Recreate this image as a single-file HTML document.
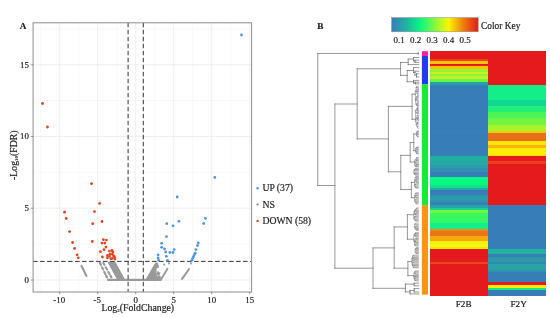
<!DOCTYPE html>
<html lang="en"><head><meta charset="utf-8"><title>Volcano plot and heatmap</title>
<style>html,body{margin:0;padding:0;background:#fff;}body{width:550px;height:318px;overflow:hidden;}svg{display:block;filter:blur(0.35px);font-family:"Liberation Serif","Times New Roman",serif;fill:#1a1a1a;}text{stroke:#1a1a1a;stroke-width:0.18px;}</style></head><body>
<svg width="550" height="318" viewBox="0 0 550 318">
<defs><linearGradient id="key" x1="0" x2="1" y1="0" y2="0"><stop offset="0" stop-color="#377eb8"/><stop offset="0.17" stop-color="#1fb3a2"/><stop offset="0.33" stop-color="#08f782"/><stop offset="0.50" stop-color="#86f83c"/><stop offset="0.66" stop-color="#fdf500"/><stop offset="0.82" stop-color="#f0820f"/><stop offset="1" stop-color="#e41a1c"/></linearGradient></defs>
<rect x="0" y="0" width="550" height="318" fill="#ffffff"/>
<g id="volcano">
<g stroke="#f3f3f3" stroke-width="0.5" fill="none">
<line x1="40.7" y1="22.8" x2="40.7" y2="292.0"/>
<line x1="78.7" y1="22.8" x2="78.7" y2="292.0"/>
<line x1="116.7" y1="22.8" x2="116.7" y2="292.0"/>
<line x1="154.7" y1="22.8" x2="154.7" y2="292.0"/>
<line x1="192.7" y1="22.8" x2="192.7" y2="292.0"/>
<line x1="230.7" y1="22.8" x2="230.7" y2="292.0"/>
<line x1="33.1" y1="244.1" x2="251.6" y2="244.1"/>
<line x1="33.1" y1="172.4" x2="251.6" y2="172.4"/>
<line x1="33.1" y1="100.6" x2="251.6" y2="100.6"/>
<line x1="33.1" y1="28.9" x2="251.6" y2="28.9"/>
</g>
<g stroke="#e8e8e8" stroke-width="0.7" fill="none">
<line x1="59.7" y1="22.8" x2="59.7" y2="292.0"/>
<line x1="97.7" y1="22.8" x2="97.7" y2="292.0"/>
<line x1="135.7" y1="22.8" x2="135.7" y2="292.0"/>
<line x1="173.7" y1="22.8" x2="173.7" y2="292.0"/>
<line x1="211.7" y1="22.8" x2="211.7" y2="292.0"/>
<line x1="249.7" y1="22.8" x2="249.7" y2="292.0"/>
<line x1="33.1" y1="280.0" x2="251.6" y2="280.0"/>
<line x1="33.1" y1="208.2" x2="251.6" y2="208.2"/>
<line x1="33.1" y1="136.5" x2="251.6" y2="136.5"/>
<line x1="33.1" y1="64.8" x2="251.6" y2="64.8"/>
</g>
<g fill="#9a9a9a">
<circle cx="108.0" cy="279.9" r="1.1"/>
<circle cx="108.9" cy="279.9" r="1.1"/>
<circle cx="109.8" cy="279.9" r="1.1"/>
<circle cx="110.7" cy="279.9" r="1.1"/>
<circle cx="111.6" cy="279.9" r="1.1"/>
<circle cx="112.5" cy="279.9" r="1.1"/>
<circle cx="113.4" cy="279.9" r="1.1"/>
<circle cx="114.3" cy="279.9" r="1.1"/>
<circle cx="115.2" cy="279.9" r="1.1"/>
<circle cx="116.1" cy="279.9" r="1.1"/>
<circle cx="117.0" cy="279.9" r="1.1"/>
<circle cx="117.9" cy="279.9" r="1.1"/>
<circle cx="118.8" cy="279.9" r="1.1"/>
<circle cx="119.7" cy="279.9" r="1.1"/>
<circle cx="120.6" cy="279.9" r="1.1"/>
<circle cx="121.5" cy="279.9" r="1.1"/>
<circle cx="122.4" cy="279.9" r="1.1"/>
<circle cx="123.3" cy="279.9" r="1.1"/>
<circle cx="124.2" cy="279.9" r="1.1"/>
<circle cx="125.1" cy="279.9" r="1.1"/>
<circle cx="126.0" cy="279.9" r="1.1"/>
<circle cx="126.9" cy="279.9" r="1.1"/>
<circle cx="127.8" cy="279.9" r="1.1"/>
<circle cx="128.7" cy="279.9" r="1.1"/>
<circle cx="129.6" cy="279.9" r="1.1"/>
<circle cx="130.5" cy="279.9" r="1.1"/>
<circle cx="131.4" cy="279.9" r="1.1"/>
<circle cx="132.3" cy="279.9" r="1.1"/>
<circle cx="133.2" cy="279.9" r="1.1"/>
<circle cx="134.1" cy="279.9" r="1.1"/>
<circle cx="135.0" cy="279.9" r="1.1"/>
<circle cx="135.9" cy="279.9" r="1.1"/>
<circle cx="136.8" cy="279.9" r="1.1"/>
<circle cx="137.7" cy="279.9" r="1.1"/>
<circle cx="138.6" cy="279.9" r="1.1"/>
<circle cx="139.5" cy="279.9" r="1.1"/>
<circle cx="140.4" cy="279.9" r="1.1"/>
<circle cx="141.3" cy="279.9" r="1.1"/>
<circle cx="142.2" cy="279.9" r="1.1"/>
<circle cx="143.1" cy="279.9" r="1.1"/>
<circle cx="144.0" cy="279.9" r="1.1"/>
<circle cx="144.9" cy="279.9" r="1.1"/>
<circle cx="145.8" cy="279.9" r="1.1"/>
<circle cx="146.7" cy="279.9" r="1.1"/>
<circle cx="147.6" cy="279.9" r="1.1"/>
<circle cx="148.5" cy="279.9" r="1.1"/>
<circle cx="149.4" cy="279.9" r="1.1"/>
<circle cx="150.3" cy="279.9" r="1.1"/>
<circle cx="151.2" cy="279.9" r="1.1"/>
<circle cx="152.1" cy="279.9" r="1.1"/>
<circle cx="153.0" cy="279.9" r="1.1"/>
<circle cx="153.9" cy="279.9" r="1.1"/>
<circle cx="154.8" cy="279.9" r="1.1"/>
<circle cx="155.7" cy="279.9" r="1.1"/>
<circle cx="156.6" cy="279.9" r="1.1"/>
<circle cx="157.5" cy="279.9" r="1.1"/>
<circle cx="158.4" cy="279.9" r="1.1"/>
<circle cx="159.3" cy="279.9" r="1.1"/>
<circle cx="160.2" cy="279.9" r="1.1"/>
<circle cx="109.0" cy="262.6" r="1.1"/>
<circle cx="110.1" cy="262.6" r="1.1"/>
<circle cx="111.2" cy="262.6" r="1.1"/>
<circle cx="112.3" cy="262.6" r="1.1"/>
<circle cx="113.4" cy="262.6" r="1.1"/>
<circle cx="114.5" cy="262.6" r="1.1"/>
<circle cx="109.4" cy="263.3" r="1.1"/>
<circle cx="110.5" cy="263.3" r="1.1"/>
<circle cx="111.6" cy="263.3" r="1.1"/>
<circle cx="112.7" cy="263.3" r="1.1"/>
<circle cx="113.8" cy="263.3" r="1.1"/>
<circle cx="114.9" cy="263.3" r="1.1"/>
<circle cx="109.8" cy="264.0" r="1.1"/>
<circle cx="110.9" cy="264.0" r="1.1"/>
<circle cx="112.0" cy="264.0" r="1.1"/>
<circle cx="113.1" cy="264.0" r="1.1"/>
<circle cx="114.2" cy="264.0" r="1.1"/>
<circle cx="115.3" cy="264.0" r="1.1"/>
<circle cx="110.1" cy="264.7" r="1.1"/>
<circle cx="111.2" cy="264.7" r="1.1"/>
<circle cx="112.3" cy="264.7" r="1.1"/>
<circle cx="113.4" cy="264.7" r="1.1"/>
<circle cx="114.5" cy="264.7" r="1.1"/>
<circle cx="115.6" cy="264.7" r="1.1"/>
<circle cx="110.5" cy="265.4" r="1.1"/>
<circle cx="111.6" cy="265.4" r="1.1"/>
<circle cx="112.7" cy="265.4" r="1.1"/>
<circle cx="113.8" cy="265.4" r="1.1"/>
<circle cx="114.9" cy="265.4" r="1.1"/>
<circle cx="116.0" cy="265.4" r="1.1"/>
<circle cx="110.9" cy="266.1" r="1.1"/>
<circle cx="112.0" cy="266.1" r="1.1"/>
<circle cx="113.1" cy="266.1" r="1.1"/>
<circle cx="114.2" cy="266.1" r="1.1"/>
<circle cx="115.3" cy="266.1" r="1.1"/>
<circle cx="116.4" cy="266.1" r="1.1"/>
<circle cx="111.3" cy="266.8" r="1.1"/>
<circle cx="112.4" cy="266.8" r="1.1"/>
<circle cx="113.5" cy="266.8" r="1.1"/>
<circle cx="114.6" cy="266.8" r="1.1"/>
<circle cx="115.7" cy="266.8" r="1.1"/>
<circle cx="116.8" cy="266.8" r="1.1"/>
<circle cx="111.7" cy="267.4" r="1.1"/>
<circle cx="112.8" cy="267.4" r="1.1"/>
<circle cx="113.9" cy="267.4" r="1.1"/>
<circle cx="115.0" cy="267.4" r="1.1"/>
<circle cx="116.1" cy="267.4" r="1.1"/>
<circle cx="117.2" cy="267.4" r="1.1"/>
<circle cx="112.0" cy="268.1" r="1.1"/>
<circle cx="113.1" cy="268.1" r="1.1"/>
<circle cx="114.2" cy="268.1" r="1.1"/>
<circle cx="115.3" cy="268.1" r="1.1"/>
<circle cx="116.4" cy="268.1" r="1.1"/>
<circle cx="117.5" cy="268.1" r="1.1"/>
<circle cx="112.4" cy="268.8" r="1.1"/>
<circle cx="113.5" cy="268.8" r="1.1"/>
<circle cx="114.6" cy="268.8" r="1.1"/>
<circle cx="115.7" cy="268.8" r="1.1"/>
<circle cx="116.8" cy="268.8" r="1.1"/>
<circle cx="117.9" cy="268.8" r="1.1"/>
<circle cx="112.8" cy="269.5" r="1.1"/>
<circle cx="113.9" cy="269.5" r="1.1"/>
<circle cx="115.0" cy="269.5" r="1.1"/>
<circle cx="116.1" cy="269.5" r="1.1"/>
<circle cx="117.2" cy="269.5" r="1.1"/>
<circle cx="118.3" cy="269.5" r="1.1"/>
<circle cx="113.2" cy="270.2" r="1.1"/>
<circle cx="114.3" cy="270.2" r="1.1"/>
<circle cx="115.4" cy="270.2" r="1.1"/>
<circle cx="116.5" cy="270.2" r="1.1"/>
<circle cx="117.6" cy="270.2" r="1.1"/>
<circle cx="118.7" cy="270.2" r="1.1"/>
<circle cx="113.6" cy="270.9" r="1.1"/>
<circle cx="114.7" cy="270.9" r="1.1"/>
<circle cx="115.8" cy="270.9" r="1.1"/>
<circle cx="116.9" cy="270.9" r="1.1"/>
<circle cx="118.0" cy="270.9" r="1.1"/>
<circle cx="119.1" cy="270.9" r="1.1"/>
<circle cx="113.9" cy="271.6" r="1.1"/>
<circle cx="115.0" cy="271.6" r="1.1"/>
<circle cx="116.1" cy="271.6" r="1.1"/>
<circle cx="117.2" cy="271.6" r="1.1"/>
<circle cx="118.3" cy="271.6" r="1.1"/>
<circle cx="119.4" cy="271.6" r="1.1"/>
<circle cx="114.3" cy="272.3" r="1.1"/>
<circle cx="115.4" cy="272.3" r="1.1"/>
<circle cx="116.5" cy="272.3" r="1.1"/>
<circle cx="117.6" cy="272.3" r="1.1"/>
<circle cx="118.7" cy="272.3" r="1.1"/>
<circle cx="119.8" cy="272.3" r="1.1"/>
<circle cx="114.7" cy="273.0" r="1.1"/>
<circle cx="115.8" cy="273.0" r="1.1"/>
<circle cx="116.9" cy="273.0" r="1.1"/>
<circle cx="118.0" cy="273.0" r="1.1"/>
<circle cx="119.1" cy="273.0" r="1.1"/>
<circle cx="120.2" cy="273.0" r="1.1"/>
<circle cx="115.1" cy="273.7" r="1.1"/>
<circle cx="116.2" cy="273.7" r="1.1"/>
<circle cx="117.3" cy="273.7" r="1.1"/>
<circle cx="118.4" cy="273.7" r="1.1"/>
<circle cx="119.5" cy="273.7" r="1.1"/>
<circle cx="120.6" cy="273.7" r="1.1"/>
<circle cx="115.5" cy="274.4" r="1.1"/>
<circle cx="116.6" cy="274.4" r="1.1"/>
<circle cx="117.7" cy="274.4" r="1.1"/>
<circle cx="118.8" cy="274.4" r="1.1"/>
<circle cx="119.9" cy="274.4" r="1.1"/>
<circle cx="121.0" cy="274.4" r="1.1"/>
<circle cx="115.8" cy="275.1" r="1.1"/>
<circle cx="116.9" cy="275.1" r="1.1"/>
<circle cx="118.0" cy="275.1" r="1.1"/>
<circle cx="119.1" cy="275.1" r="1.1"/>
<circle cx="120.2" cy="275.1" r="1.1"/>
<circle cx="121.3" cy="275.1" r="1.1"/>
<circle cx="116.2" cy="275.7" r="1.1"/>
<circle cx="117.3" cy="275.7" r="1.1"/>
<circle cx="118.4" cy="275.7" r="1.1"/>
<circle cx="119.5" cy="275.7" r="1.1"/>
<circle cx="120.6" cy="275.7" r="1.1"/>
<circle cx="121.7" cy="275.7" r="1.1"/>
<circle cx="116.6" cy="276.4" r="1.1"/>
<circle cx="117.7" cy="276.4" r="1.1"/>
<circle cx="118.8" cy="276.4" r="1.1"/>
<circle cx="119.9" cy="276.4" r="1.1"/>
<circle cx="121.0" cy="276.4" r="1.1"/>
<circle cx="122.1" cy="276.4" r="1.1"/>
<circle cx="117.0" cy="277.1" r="1.1"/>
<circle cx="118.1" cy="277.1" r="1.1"/>
<circle cx="119.2" cy="277.1" r="1.1"/>
<circle cx="120.3" cy="277.1" r="1.1"/>
<circle cx="121.4" cy="277.1" r="1.1"/>
<circle cx="122.5" cy="277.1" r="1.1"/>
<circle cx="117.4" cy="277.8" r="1.1"/>
<circle cx="118.5" cy="277.8" r="1.1"/>
<circle cx="119.6" cy="277.8" r="1.1"/>
<circle cx="120.7" cy="277.8" r="1.1"/>
<circle cx="121.8" cy="277.8" r="1.1"/>
<circle cx="122.9" cy="277.8" r="1.1"/>
<circle cx="117.7" cy="278.5" r="1.1"/>
<circle cx="118.8" cy="278.5" r="1.1"/>
<circle cx="119.9" cy="278.5" r="1.1"/>
<circle cx="121.0" cy="278.5" r="1.1"/>
<circle cx="122.1" cy="278.5" r="1.1"/>
<circle cx="123.2" cy="278.5" r="1.1"/>
<circle cx="118.1" cy="279.2" r="1.1"/>
<circle cx="119.2" cy="279.2" r="1.1"/>
<circle cx="120.3" cy="279.2" r="1.1"/>
<circle cx="121.4" cy="279.2" r="1.1"/>
<circle cx="122.5" cy="279.2" r="1.1"/>
<circle cx="123.6" cy="279.2" r="1.1"/>
<circle cx="118.5" cy="279.9" r="1.1"/>
<circle cx="119.6" cy="279.9" r="1.1"/>
<circle cx="120.7" cy="279.9" r="1.1"/>
<circle cx="121.8" cy="279.9" r="1.1"/>
<circle cx="122.9" cy="279.9" r="1.1"/>
<circle cx="124.0" cy="279.9" r="1.1"/>
<circle cx="155.9" cy="263.6" r="1.1"/>
<circle cx="156.9" cy="263.6" r="1.1"/>
<circle cx="155.3" cy="264.7" r="1.1"/>
<circle cx="156.3" cy="264.7" r="1.1"/>
<circle cx="157.3" cy="264.7" r="1.1"/>
<circle cx="154.7" cy="265.8" r="1.1"/>
<circle cx="155.7" cy="265.8" r="1.1"/>
<circle cx="156.7" cy="265.8" r="1.1"/>
<circle cx="157.7" cy="265.8" r="1.1"/>
<circle cx="154.0" cy="266.9" r="1.1"/>
<circle cx="155.0" cy="266.9" r="1.1"/>
<circle cx="156.0" cy="266.9" r="1.1"/>
<circle cx="157.0" cy="266.9" r="1.1"/>
<circle cx="158.0" cy="266.9" r="1.1"/>
<circle cx="153.4" cy="267.9" r="1.1"/>
<circle cx="154.4" cy="267.9" r="1.1"/>
<circle cx="155.4" cy="267.9" r="1.1"/>
<circle cx="152.8" cy="269.0" r="1.1"/>
<circle cx="153.8" cy="269.0" r="1.1"/>
<circle cx="154.8" cy="269.0" r="1.1"/>
<circle cx="155.8" cy="269.0" r="1.1"/>
<circle cx="152.2" cy="270.1" r="1.1"/>
<circle cx="153.2" cy="270.1" r="1.1"/>
<circle cx="154.2" cy="270.1" r="1.1"/>
<circle cx="155.2" cy="270.1" r="1.1"/>
<circle cx="151.6" cy="271.2" r="1.1"/>
<circle cx="152.6" cy="271.2" r="1.1"/>
<circle cx="153.6" cy="271.2" r="1.1"/>
<circle cx="154.6" cy="271.2" r="1.1"/>
<circle cx="155.6" cy="271.2" r="1.1"/>
<circle cx="150.9" cy="272.3" r="1.1"/>
<circle cx="151.9" cy="272.3" r="1.1"/>
<circle cx="152.9" cy="272.3" r="1.1"/>
<circle cx="153.9" cy="272.3" r="1.1"/>
<circle cx="154.9" cy="272.3" r="1.1"/>
<circle cx="157.9" cy="272.3" r="1.1"/>
<circle cx="150.3" cy="273.4" r="1.1"/>
<circle cx="151.3" cy="273.4" r="1.1"/>
<circle cx="152.3" cy="273.4" r="1.1"/>
<circle cx="153.3" cy="273.4" r="1.1"/>
<circle cx="154.3" cy="273.4" r="1.1"/>
<circle cx="155.3" cy="273.4" r="1.1"/>
<circle cx="157.3" cy="273.4" r="1.1"/>
<circle cx="158.3" cy="273.4" r="1.1"/>
<circle cx="159.3" cy="273.4" r="1.1"/>
<circle cx="149.7" cy="274.5" r="1.1"/>
<circle cx="150.7" cy="274.5" r="1.1"/>
<circle cx="151.7" cy="274.5" r="1.1"/>
<circle cx="152.7" cy="274.5" r="1.1"/>
<circle cx="153.7" cy="274.5" r="1.1"/>
<circle cx="154.7" cy="274.5" r="1.1"/>
<circle cx="156.7" cy="274.5" r="1.1"/>
<circle cx="158.7" cy="274.5" r="1.1"/>
<circle cx="149.1" cy="275.6" r="1.1"/>
<circle cx="150.1" cy="275.6" r="1.1"/>
<circle cx="151.1" cy="275.6" r="1.1"/>
<circle cx="152.1" cy="275.6" r="1.1"/>
<circle cx="153.1" cy="275.6" r="1.1"/>
<circle cx="154.1" cy="275.6" r="1.1"/>
<circle cx="155.1" cy="275.6" r="1.1"/>
<circle cx="148.5" cy="276.6" r="1.1"/>
<circle cx="149.5" cy="276.6" r="1.1"/>
<circle cx="150.5" cy="276.6" r="1.1"/>
<circle cx="151.5" cy="276.6" r="1.1"/>
<circle cx="152.5" cy="276.6" r="1.1"/>
<circle cx="153.5" cy="276.6" r="1.1"/>
<circle cx="154.5" cy="276.6" r="1.1"/>
<circle cx="155.5" cy="276.6" r="1.1"/>
<circle cx="156.5" cy="276.6" r="1.1"/>
<circle cx="158.5" cy="276.6" r="1.1"/>
<circle cx="159.5" cy="276.6" r="1.1"/>
<circle cx="147.8" cy="277.7" r="1.1"/>
<circle cx="148.8" cy="277.7" r="1.1"/>
<circle cx="149.8" cy="277.7" r="1.1"/>
<circle cx="150.8" cy="277.7" r="1.1"/>
<circle cx="151.8" cy="277.7" r="1.1"/>
<circle cx="152.8" cy="277.7" r="1.1"/>
<circle cx="153.8" cy="277.7" r="1.1"/>
<circle cx="154.8" cy="277.7" r="1.1"/>
<circle cx="155.8" cy="277.7" r="1.1"/>
<circle cx="156.8" cy="277.7" r="1.1"/>
<circle cx="157.8" cy="277.7" r="1.1"/>
<circle cx="158.8" cy="277.7" r="1.1"/>
<circle cx="159.8" cy="277.7" r="1.1"/>
<circle cx="147.2" cy="278.8" r="1.1"/>
<circle cx="148.2" cy="278.8" r="1.1"/>
<circle cx="149.2" cy="278.8" r="1.1"/>
<circle cx="150.2" cy="278.8" r="1.1"/>
<circle cx="151.2" cy="278.8" r="1.1"/>
<circle cx="152.2" cy="278.8" r="1.1"/>
<circle cx="153.2" cy="278.8" r="1.1"/>
<circle cx="154.2" cy="278.8" r="1.1"/>
<circle cx="155.2" cy="278.8" r="1.1"/>
<circle cx="156.2" cy="278.8" r="1.1"/>
<circle cx="157.2" cy="278.8" r="1.1"/>
<circle cx="158.2" cy="278.8" r="1.1"/>
<circle cx="159.2" cy="278.8" r="1.1"/>
<circle cx="160.2" cy="278.8" r="1.1"/>
<circle cx="146.6" cy="279.9" r="1.1"/>
<circle cx="147.6" cy="279.9" r="1.1"/>
<circle cx="148.6" cy="279.9" r="1.1"/>
<circle cx="149.6" cy="279.9" r="1.1"/>
<circle cx="150.6" cy="279.9" r="1.1"/>
<circle cx="151.6" cy="279.9" r="1.1"/>
<circle cx="152.6" cy="279.9" r="1.1"/>
<circle cx="153.6" cy="279.9" r="1.1"/>
<circle cx="154.6" cy="279.9" r="1.1"/>
<circle cx="155.6" cy="279.9" r="1.1"/>
<circle cx="156.6" cy="279.9" r="1.1"/>
<circle cx="157.6" cy="279.9" r="1.1"/>
<circle cx="158.6" cy="279.9" r="1.1"/>
<circle cx="159.6" cy="279.9" r="1.1"/>
<circle cx="160.6" cy="279.9" r="1.1"/>
<circle cx="99.9" cy="262.9" r="1.05"/>
<circle cx="100.2" cy="263.6" r="1.05"/>
<circle cx="100.6" cy="264.3" r="1.05"/>
<circle cx="100.9" cy="264.9" r="1.05"/>
<circle cx="102.0" cy="267.2" r="1.05"/>
<circle cx="102.4" cy="268.0" r="1.05"/>
<circle cx="102.7" cy="268.8" r="1.05"/>
<circle cx="103.1" cy="269.6" r="1.05"/>
<circle cx="104.2" cy="271.9" r="1.05"/>
<circle cx="104.6" cy="272.7" r="1.05"/>
<circle cx="105.0" cy="273.4" r="1.05"/>
<circle cx="105.4" cy="274.2" r="1.05"/>
<circle cx="106.2" cy="275.9" r="1.05"/>
<circle cx="106.4" cy="276.4" r="1.05"/>
<circle cx="106.7" cy="276.9" r="1.05"/>
<circle cx="106.9" cy="277.4" r="1.05"/>
<circle cx="103.3" cy="262.9" r="1.05"/>
<circle cx="103.7" cy="263.6" r="1.05"/>
<circle cx="104.1" cy="264.3" r="1.05"/>
<circle cx="104.4" cy="264.9" r="1.05"/>
<circle cx="105.7" cy="267.2" r="1.05"/>
<circle cx="106.2" cy="268.0" r="1.05"/>
<circle cx="106.6" cy="268.8" r="1.05"/>
<circle cx="107.0" cy="269.6" r="1.05"/>
<circle cx="108.3" cy="271.9" r="1.05"/>
<circle cx="108.8" cy="272.7" r="1.05"/>
<circle cx="109.2" cy="273.4" r="1.05"/>
<circle cx="109.6" cy="274.2" r="1.05"/>
<circle cx="110.6" cy="275.9" r="1.05"/>
<circle cx="110.9" cy="276.4" r="1.05"/>
<circle cx="111.1" cy="276.9" r="1.05"/>
<circle cx="111.4" cy="277.4" r="1.05"/>
<circle cx="81.5" cy="265.9" r="1.05"/>
<circle cx="81.9" cy="266.7" r="1.05"/>
<circle cx="82.3" cy="267.5" r="1.05"/>
<circle cx="82.7" cy="268.3" r="1.05"/>
<circle cx="83.0" cy="269.0" r="1.05"/>
<circle cx="83.4" cy="269.8" r="1.05"/>
<circle cx="83.8" cy="270.6" r="1.05"/>
<circle cx="84.2" cy="271.4" r="1.05"/>
<circle cx="84.6" cy="272.2" r="1.05"/>
<circle cx="85.0" cy="273.0" r="1.05"/>
<circle cx="85.3" cy="273.7" r="1.05"/>
<circle cx="85.7" cy="274.5" r="1.05"/>
<circle cx="86.1" cy="275.3" r="1.05"/>
<circle cx="86.5" cy="276.1" r="1.05"/>
<circle cx="167.4" cy="268.8" r="1.05"/>
<circle cx="166.8" cy="269.9" r="1.05"/>
<circle cx="166.1" cy="271.0" r="1.05"/>
<circle cx="165.5" cy="272.1" r="1.05"/>
<circle cx="164.8" cy="273.2" r="1.05"/>
<circle cx="164.2" cy="274.2" r="1.05"/>
<circle cx="163.5" cy="275.3" r="1.05"/>
<circle cx="162.9" cy="276.4" r="1.05"/>
<circle cx="162.2" cy="277.5" r="1.05"/>
<circle cx="161.6" cy="278.6" r="1.05"/>
<circle cx="164.2" cy="264.6" r="1.05"/>
<circle cx="169.0" cy="263.4" r="1.05"/>
<circle cx="190.9" cy="263.4" r="1.05"/>
<circle cx="189.0" cy="269.1" r="1.05"/>
<circle cx="188.4" cy="270.0" r="1.05"/>
<circle cx="187.7" cy="270.9" r="1.05"/>
<circle cx="187.1" cy="271.8" r="1.05"/>
<circle cx="186.5" cy="272.7" r="1.05"/>
<circle cx="185.8" cy="273.6" r="1.05"/>
<circle cx="185.2" cy="274.5" r="1.05"/>
<circle cx="184.5" cy="275.4" r="1.05"/>
<circle cx="183.9" cy="276.3" r="1.05"/>
<circle cx="183.3" cy="277.2" r="1.05"/>
<circle cx="182.6" cy="278.1" r="1.05"/>
<circle cx="182.0" cy="279.0" r="1.05"/>
</g>
<g stroke="#333" stroke-width="1.0" stroke-dasharray="4.5 2.5" fill="none">
<line x1="128.1" y1="22.8" x2="128.1" y2="292.0"/>
<line x1="143.3" y1="22.8" x2="143.3" y2="292.0"/>
<line x1="33.1" y1="261.4" x2="251.6" y2="261.4"/>
</g>
<g fill="#d9481f">
<circle cx="42.5" cy="103.5" r="1.4"/>
<circle cx="47.5" cy="127.0" r="1.4"/>
<circle cx="91.5" cy="183.7" r="1.4"/>
<circle cx="99.6" cy="203.4" r="1.4"/>
<circle cx="64.6" cy="212.2" r="1.4"/>
<circle cx="94.5" cy="211.6" r="1.4"/>
<circle cx="66.2" cy="218.5" r="1.4"/>
<circle cx="102.0" cy="221.5" r="1.4"/>
<circle cx="92.7" cy="223.7" r="1.4"/>
<circle cx="69.6" cy="231.6" r="1.4"/>
<circle cx="72.6" cy="242.5" r="1.4"/>
<circle cx="74.6" cy="248.5" r="1.4"/>
<circle cx="77.1" cy="254.8" r="1.4"/>
<circle cx="78.3" cy="257.8" r="1.4"/>
<circle cx="92.3" cy="241.5" r="1.4"/>
<circle cx="103.4" cy="239.7" r="1.4"/>
<circle cx="106.4" cy="240.1" r="1.4"/>
<circle cx="102.0" cy="243.1" r="1.4"/>
<circle cx="104.8" cy="243.1" r="1.4"/>
<circle cx="106.0" cy="247.1" r="1.4"/>
<circle cx="104.0" cy="249.7" r="1.4"/>
<circle cx="100.4" cy="251.7" r="1.4"/>
<circle cx="109.4" cy="251.1" r="1.4"/>
<circle cx="112.0" cy="250.5" r="1.4"/>
<circle cx="112.8" cy="252.1" r="1.4"/>
<circle cx="110.0" cy="254.2" r="1.4"/>
<circle cx="112.4" cy="254.2" r="1.4"/>
<circle cx="107.4" cy="255.4" r="1.4"/>
<circle cx="109.4" cy="256.4" r="1.4"/>
<circle cx="113.5" cy="255.8" r="1.4"/>
<circle cx="114.5" cy="257.0" r="1.4"/>
<circle cx="102.4" cy="257.0" r="1.4"/>
<circle cx="107.4" cy="257.8" r="1.4"/>
<circle cx="112.4" cy="258.4" r="1.4"/>
<circle cx="110.8" cy="258.8" r="1.4"/>
<circle cx="114.9" cy="259.0" r="1.4"/>
</g>
<g fill="#4f94e0">
<circle cx="241.5" cy="35.0" r="1.4"/>
<circle cx="214.8" cy="177.4" r="1.4"/>
<circle cx="177.2" cy="197.0" r="1.4"/>
<circle cx="205.4" cy="218.3" r="1.4"/>
<circle cx="203.7" cy="223.5" r="1.4"/>
<circle cx="178.9" cy="221.3" r="1.4"/>
<circle cx="166.8" cy="223.7" r="1.4"/>
<circle cx="173.0" cy="225.8" r="1.4"/>
<circle cx="166.4" cy="236.6" r="1.4"/>
<circle cx="161.6" cy="243.3" r="1.4"/>
<circle cx="161.6" cy="247.3" r="1.4"/>
<circle cx="164.5" cy="248.9" r="1.4"/>
<circle cx="174.2" cy="249.6" r="1.4"/>
<circle cx="165.7" cy="252.0" r="1.4"/>
<circle cx="169.9" cy="252.5" r="1.4"/>
<circle cx="173.0" cy="252.5" r="1.4"/>
<circle cx="158.1" cy="254.8" r="1.4"/>
<circle cx="166.4" cy="256.3" r="1.4"/>
<circle cx="158.1" cy="257.9" r="1.4"/>
<circle cx="158.6" cy="260.3" r="1.4"/>
<circle cx="167.5" cy="260.3" r="1.4"/>
<circle cx="198.3" cy="243.0" r="1.4"/>
<circle cx="195.9" cy="249.6" r="1.4"/>
<circle cx="195.2" cy="253.2" r="1.4"/>
<circle cx="194.3" cy="254.8" r="1.4"/>
<circle cx="193.5" cy="256.7" r="1.4"/>
<circle cx="192.6" cy="258.6" r="1.4"/>
<circle cx="191.9" cy="260.3" r="1.4"/>
<circle cx="197.4" cy="245.6" r="1.4"/>
</g>
<rect x="33.1" y="22.8" width="218.5" height="269.2" fill="none" stroke="#8c8c8c" stroke-width="1"/>
<g stroke="#555" stroke-width="0.6">
<line x1="59.7" y1="292.0" x2="59.7" y2="294.2"/>
<line x1="97.7" y1="292.0" x2="97.7" y2="294.2"/>
<line x1="135.7" y1="292.0" x2="135.7" y2="294.2"/>
<line x1="173.7" y1="292.0" x2="173.7" y2="294.2"/>
<line x1="211.7" y1="292.0" x2="211.7" y2="294.2"/>
<line x1="249.7" y1="292.0" x2="249.7" y2="294.2"/>
<line x1="30.700000000000003" y1="280.0" x2="33.1" y2="280.0"/>
<line x1="30.700000000000003" y1="208.2" x2="33.1" y2="208.2"/>
<line x1="30.700000000000003" y1="136.5" x2="33.1" y2="136.5"/>
<line x1="30.700000000000003" y1="64.8" x2="33.1" y2="64.8"/>
</g>
<g font-size="8.8px">
<text x="59.2" y="302.6" text-anchor="middle">-10</text>
<text x="97.2" y="302.6" text-anchor="middle">-5</text>
<text x="135.7" y="302.6" text-anchor="middle">0</text>
<text x="173.7" y="302.6" text-anchor="middle">5</text>
<text x="211.7" y="302.6" text-anchor="middle">10</text>
<text x="249.7" y="302.6" text-anchor="middle">15</text>
<text x="28.8" y="282.8" text-anchor="end">0</text>
<text x="28.8" y="211.1" text-anchor="end">5</text>
<text x="28.8" y="139.3" text-anchor="end">10</text>
<text x="28.8" y="67.5" text-anchor="end">15</text>
</g>
<text x="137.8" y="310.6" text-anchor="middle" font-size="9.8px">Log<tspan font-size="5px" dy="1.6">2</tspan><tspan dy="-1.6">(FoldChange)</tspan></text>
<text transform="translate(16.6,155.2) rotate(-90)" text-anchor="middle" font-size="9.8px">-Log<tspan font-size="5px" dy="1.6">10</tspan><tspan dy="-1.6">(FDR)</tspan></text>
<text x="19.8" y="28.7" font-size="9.2px" font-weight="bold">A</text>
<circle cx="257.6" cy="188.3" r="1.2" fill="#4f94e0"/>
<circle cx="257.6" cy="204.4" r="1.2" fill="#9a9a9a"/>
<circle cx="257.6" cy="220.9" r="1.2" fill="#d9481f"/>
<g font-size="9.7px">
<text x="262.4" y="191.4">UP (37)</text>
<text x="262.4" y="207.5">NS</text>
<text x="262.4" y="224.0">DOWN (58)</text>
</g>
</g>
<g id="heatmap">
<text x="317.2" y="28.6" font-size="9.2px" font-weight="bold">B</text>
<rect x="391.6" y="17.6" width="86.6" height="14.2" fill="url(#key)" stroke="#8a8a8a" stroke-width="0.5"/>
<text x="481.0" y="28.6" font-size="9.4px">Color Key</text>
<g font-size="9px" text-anchor="middle">
<text x="399.0" y="42.6">0.1</text>
<text x="415.6" y="42.6">0.2</text>
<text x="432.1" y="42.6">0.3</text>
<text x="448.6" y="42.6">0.4</text>
<text x="465.2" y="42.6">0.5</text>
</g>
<g shape-rendering="crispEdges">
<rect x="430.2" y="51.2" width="57.7" height="8.0" fill="#e41a1c"/>
<rect x="430.2" y="58.9" width="57.7" height="2.3" fill="#e8441a"/>
<rect x="430.2" y="60.9" width="57.7" height="3.4" fill="#ffc200"/>
<rect x="430.2" y="64.0" width="57.7" height="2.3" fill="#e41a1c"/>
<rect x="430.2" y="66.0" width="57.7" height="3.4" fill="#ffc400"/>
<rect x="430.2" y="69.1" width="57.7" height="3.2" fill="#98f234"/>
<rect x="430.2" y="72.0" width="57.7" height="2.5" fill="#c6f222"/>
<rect x="430.2" y="74.2" width="57.7" height="2.5" fill="#8cf238"/>
<rect x="430.2" y="76.4" width="57.7" height="3.2" fill="#bef226"/>
<rect x="430.2" y="79.3" width="57.7" height="2.8" fill="#6cf446"/>
<rect x="430.2" y="81.8" width="57.7" height="3.6" fill="#22a2a4"/>
<rect x="430.2" y="85.1" width="57.7" height="45.8" fill="#377eb8"/>
<rect x="430.2" y="130.6" width="57.7" height="1.7" fill="#3586b4"/>
<rect x="430.2" y="132.0" width="57.7" height="24.2" fill="#377eb8"/>
<rect x="430.2" y="155.9" width="57.7" height="5.4" fill="#20b0a2"/>
<rect x="430.2" y="161.0" width="57.7" height="3.8" fill="#25a8a6"/>
<rect x="430.2" y="164.5" width="57.7" height="3.8" fill="#2a9cac"/>
<rect x="430.2" y="168.0" width="57.7" height="4.1" fill="#3090b2"/>
<rect x="430.2" y="171.8" width="57.7" height="5.4" fill="#377eb8"/>
<rect x="430.2" y="176.9" width="57.7" height="8.3" fill="#08f884"/>
<rect x="430.2" y="184.9" width="57.7" height="3.5" fill="#14e08c"/>
<rect x="430.2" y="188.1" width="57.7" height="2.2" fill="#22aaa4"/>
<rect x="430.2" y="190.0" width="57.7" height="4.8" fill="#377eb8"/>
<rect x="430.2" y="194.5" width="57.7" height="2.3" fill="#2e94ae"/>
<rect x="430.2" y="196.5" width="57.7" height="3.8" fill="#2a9caa"/>
<rect x="430.2" y="200.0" width="57.7" height="2.4" fill="#2e94ae"/>
<rect x="430.2" y="202.1" width="57.7" height="2.8" fill="#377eb8"/>
<rect x="430.2" y="204.6" width="57.7" height="3.5" fill="#22a8a4"/>
<rect x="430.2" y="207.8" width="57.7" height="2.9" fill="#20d090"/>
<rect x="430.2" y="210.4" width="57.7" height="2.8" fill="#70f840"/>
<rect x="430.2" y="212.9" width="57.7" height="5.9" fill="#38f860"/>
<rect x="430.2" y="218.5" width="57.7" height="4.6" fill="#30f868"/>
<rect x="430.2" y="222.8" width="57.7" height="6.0" fill="#12ee88"/>
<rect x="430.2" y="228.5" width="57.7" height="2.8" fill="#f08a12"/>
<rect x="430.2" y="231.0" width="57.7" height="4.9" fill="#e87418"/>
<rect x="430.2" y="235.6" width="57.7" height="5.3" fill="#f4a80c"/>
<rect x="430.2" y="240.6" width="57.7" height="3.7" fill="#f6ee0c"/>
<rect x="430.2" y="244.0" width="57.7" height="2.8" fill="#f2f80e"/>
<rect x="430.2" y="246.5" width="57.7" height="2.7" fill="#f6e60c"/>
<rect x="430.2" y="248.9" width="57.7" height="13.2" fill="#e41a1c"/>
<rect x="430.2" y="261.8" width="57.7" height="2.5" fill="#e8481a"/>
<rect x="430.2" y="264.0" width="57.7" height="31.5" fill="#e41a1c"/>
<rect x="487.9" y="51.2" width="57.7" height="33.9" fill="#e41a1c"/>
<rect x="487.9" y="84.8" width="57.7" height="15.5" fill="#14ee88"/>
<rect x="487.9" y="100.0" width="57.7" height="6.3" fill="#10d892"/>
<rect x="487.9" y="106.0" width="57.7" height="6.3" fill="#22ee78"/>
<rect x="487.9" y="112.0" width="57.7" height="6.3" fill="#4cf45a"/>
<rect x="487.9" y="118.0" width="57.7" height="6.8" fill="#74f442"/>
<rect x="487.9" y="124.5" width="57.7" height="6.5" fill="#a8f42c"/>
<rect x="487.9" y="130.7" width="57.7" height="2.2" fill="#f6c80c"/>
<rect x="487.9" y="132.6" width="57.7" height="8.2" fill="#e8701a"/>
<rect x="487.9" y="140.5" width="57.7" height="4.8" fill="#fbe606"/>
<rect x="487.9" y="145.0" width="57.7" height="2.9" fill="#f6b40c"/>
<rect x="487.9" y="147.6" width="57.7" height="7.2" fill="#fbee06"/>
<rect x="487.9" y="154.5" width="57.7" height="2.1" fill="#f6da0a"/>
<rect x="487.9" y="156.3" width="57.7" height="5.0" fill="#e41a1c"/>
<rect x="487.9" y="161.0" width="57.7" height="2.8" fill="#e8401a"/>
<rect x="487.9" y="163.5" width="57.7" height="42.1" fill="#e41a1c"/>
<rect x="487.9" y="205.3" width="57.7" height="43.9" fill="#377eb8"/>
<rect x="487.9" y="248.9" width="57.7" height="5.1" fill="#20b4a0"/>
<rect x="487.9" y="253.7" width="57.7" height="3.8" fill="#377eb8"/>
<rect x="487.9" y="257.2" width="57.7" height="4.7" fill="#2a9aa8"/>
<rect x="487.9" y="261.6" width="57.7" height="2.9" fill="#3288b4"/>
<rect x="487.9" y="264.2" width="57.7" height="5.6" fill="#28a4a4"/>
<rect x="487.9" y="269.5" width="57.7" height="2.8" fill="#2f90b0"/>
<rect x="487.9" y="272.0" width="57.7" height="10.1" fill="#377eb8"/>
<rect x="487.9" y="281.8" width="57.7" height="3.3" fill="#e41a1c"/>
<rect x="487.9" y="284.8" width="57.7" height="3.0" fill="#f8ee0a"/>
<rect x="487.9" y="287.5" width="57.7" height="2.9" fill="#14ee88"/>
<rect x="487.9" y="290.1" width="57.7" height="5.4" fill="#377eb8"/>
</g>
<rect x="421.9" y="51.2" width="6.1" height="5.0" fill="#ff1f9e"/>
<rect x="421.9" y="56.0" width="6.1" height="28.3" fill="#1f3cf0"/>
<rect x="421.9" y="84.2" width="6.1" height="121.3" fill="#10ee3a"/>
<rect x="421.9" y="205.3" width="6.1" height="89.4" fill="#ff9410"/>
<text x="463.6" y="306.8" font-size="9.2px" text-anchor="middle">F2B</text>
<text x="518.6" y="306.8" font-size="9.2px" text-anchor="middle">F2Y</text>
<g stroke="#585858" stroke-width="0.62" fill="none" stroke-linecap="square">
<path d="M317.8 53.5L317.8 185.5M317.8 53.5L418.3 53.5M418.3 52.6L418.3 54.4M317.8 185.5L334.9 185.5M334.9 104.0L334.9 268.2M334.9 104.0L357.2 104.0M334.9 268.2L373.0 268.2M357.2 68.8L357.2 138.9M357.2 68.8L400.6 68.8M357.2 138.9L388.4 138.9M400.6 62.5L400.6 75.4M400.6 62.5L408.2 62.5M400.6 75.4L407.2 75.4M408.2 59.0L408.2 64.6M408.2 59.0L413.5 59.0M408.2 64.6L418.8 64.6M413.5 57.5L413.5 61.0M413.5 57.5L418.8 57.5M413.5 61.0L415.0 61.0M415.0 60.2L415.0 62.4M415.0 60.2L418.8 60.2M415.0 62.4L418.8 62.4M407.2 70.5L407.2 81.7M407.2 70.5L413.5 70.5M407.2 81.7L413.5 81.7M413.5 67.6L413.5 72.5M413.5 67.6L418.8 67.6M413.5 72.5L415.0 72.5M415.0 71.2L415.0 75.0M415.0 71.2L418.8 71.2M415.0 75.0L416.5 75.0M416.5 73.8L416.5 77.0M416.5 73.8L418.8 73.8M416.5 77.0L418.8 77.0M413.5 80.4L413.5 83.0M413.5 80.4L418.8 80.4M413.5 83.0L415.2 83.0M415.2 82.2L415.2 83.8M415.2 82.2L418.8 82.2M415.2 83.8L418.8 83.8M388.4 106.4L388.4 171.8M388.4 106.4L412.1 106.4M388.4 171.8L400.8 171.8M412.1 94.2L412.1 119.3M412.1 94.2L415.4 94.2M412.1 119.3L415.4 119.3M400.8 155.4L400.8 189.5M400.8 155.4L410.2 155.4M400.8 189.5L411.4 189.5M410.2 142.5L410.2 162.0M410.2 142.5L413.8 142.5M410.2 162.0L414.6 162.0M413.8 134.0L413.8 150.7M413.8 134.0L416.6 134.0M413.8 150.7L415.6 150.7M411.4 182.4L411.4 197.7M411.4 182.4L414.6 182.4M411.4 197.7L414.6 197.7M373.0 247.9L373.0 288.3M373.0 247.9L394.2 247.9M373.0 288.3L405.4 288.3M394.2 226.9L394.2 268.2M394.2 226.9L407.4 226.9M394.2 268.2L407.9 268.2M407.4 214.7L407.4 239.2M407.4 214.7L413.8 214.7M407.4 239.2L413.8 239.2M407.9 261.6L407.9 275.7M407.9 261.6L411.9 261.6M407.9 275.7L413.8 275.7M405.4 284.1L405.4 291.9M405.4 284.1L414.2 284.1M405.4 291.9L410.0 291.9M414.2 283.2L414.2 285.8M414.2 283.2L418.8 283.2M414.2 285.8L418.8 285.8M410.0 290.4L410.0 293.9M410.0 293.9L418.8 293.9M410.0 290.4L414.2 290.4M414.2 288.6L414.2 292.0M414.2 288.6L418.8 288.6M414.2 292.0L418.8 292.0"/>
</g>
<g stroke="#606060" stroke-width="0.5" fill="none">
<path d="M415.4 90.3L415.4 100.9M415.4 90.3L416.1 90.3M415.4 100.9L415.7 100.9M416.1 87.0L416.1 91.8M416.1 87.0L416.5 87.0M416.1 91.8L416.8 91.8M416.5 86.2L416.5 87.8M416.5 86.2L417.0 86.2M416.5 87.8L417.2 87.8M417.0 86.2L418.8 86.2M417.2 87.4L417.2 88.2M417.2 87.4L417.6 87.4M417.2 88.2L418.0 88.2M417.6 87.4L418.8 87.4M418.0 88.2L418.8 88.2M416.8 90.5L416.8 93.7M416.8 90.5L417.3 90.5M416.8 93.7L417.5 93.7M417.3 89.6L417.3 91.4M417.3 89.6L418.2 89.6M417.3 91.4L418.1 91.4M418.2 89.0L418.2 89.9M418.2 89.0L418.8 89.0M418.2 89.9L418.5 89.9M418.8 89.0L418.8 89.0M418.5 89.9L418.8 89.9M418.1 90.9L418.1 91.9M418.1 90.9L418.8 90.9M418.1 91.9L418.4 91.9M418.8 90.9L418.8 90.9M418.4 91.9L418.8 91.9M417.5 93.0L417.5 94.4M417.5 93.0L417.8 93.0M417.5 94.4L418.3 94.4M417.8 93.0L418.8 93.0M418.3 94.4L418.8 94.4M415.7 98.6L415.7 104.5M415.7 98.6L416.4 98.6M415.7 104.5L416.6 104.5M416.4 96.6L416.4 100.1M416.4 96.6L417.1 96.6M416.4 100.1L417.1 100.1M417.1 95.9L417.1 97.4M417.1 95.9L417.7 95.9M417.1 97.4L418.0 97.4M417.7 95.6L417.7 96.4M417.7 95.6L418.3 95.6M417.7 96.4L418.5 96.4M418.3 95.6L418.8 95.6M418.5 96.4L418.8 96.4M418.0 97.4L418.8 97.4M417.1 98.8L417.1 100.8M417.1 98.8L417.8 98.8M417.1 100.8L417.8 100.8M417.8 98.8L418.8 98.8M417.8 100.4L417.8 101.8M417.8 100.4L418.7 100.4M417.8 101.8L418.3 101.8M418.7 100.4L418.8 100.4M418.3 101.8L418.8 101.8M416.6 103.2L416.6 105.5M416.6 103.2L417.4 103.2M416.6 105.5L416.9 105.5M417.4 102.7L417.4 103.7M417.4 102.7L417.7 102.7M417.4 103.7L417.7 103.7M417.7 102.7L418.8 102.7M417.7 103.7L418.8 103.7M416.9 104.7L416.9 105.9M416.9 104.7L417.7 104.7M416.9 105.9L417.2 105.9M417.7 104.7L418.8 104.7M417.2 105.4L417.2 106.3M417.2 105.4L417.8 105.4M417.2 106.3L418.1 106.3M417.8 105.4L418.8 105.4M418.1 106.3L418.8 106.3M415.4 110.5L415.4 121.6M415.4 110.5L416.0 110.5M415.4 121.6L416.1 121.6M416.0 109.2L416.0 112.9M416.0 109.2L416.9 109.2M416.0 112.9L416.9 112.9M416.9 107.8L416.9 110.2M416.9 107.8L417.4 107.8M416.9 110.2L417.4 110.2M417.4 107.4L417.4 108.4M417.4 107.4L418.4 107.4M417.4 108.4L417.8 108.4M418.4 107.4L418.8 107.4M417.8 108.4L418.8 108.4M417.4 109.3L417.4 110.7M417.4 109.3L417.8 109.3M417.4 110.7L417.8 110.7M417.8 109.3L418.8 109.3M417.8 110.3L417.8 111.2M417.8 110.3L418.5 110.3M417.8 111.2L418.2 111.2M418.5 110.3L418.8 110.3M418.2 111.2L418.8 111.2M416.9 112.0L416.9 113.3M416.9 112.0L417.4 112.0M416.9 113.3L417.4 113.3M417.4 112.0L418.8 112.0M417.4 112.9L417.4 113.8M417.4 112.9L418.4 112.9M417.4 113.8L418.2 113.8M418.4 112.9L418.8 112.9M418.2 113.8L418.8 113.8M416.1 117.9L416.1 125.3M416.1 117.9L416.8 117.9M416.1 125.3L416.8 125.3M416.8 115.4L416.8 119.1M416.8 115.4L417.7 115.4M416.8 119.1L417.6 119.1M417.7 115.0L417.7 116.2M417.7 115.0L418.5 115.0M417.7 116.2L418.2 116.2M418.5 115.0L418.8 115.0M418.2 116.2L418.8 116.2M417.6 117.8L417.6 120.3M417.6 117.8L417.9 117.8M417.6 120.3L418.3 120.3M417.9 117.0L417.9 118.1M417.9 117.0L418.2 117.0M417.9 118.1L418.3 118.1M418.2 117.0L418.8 117.0M418.3 117.6L418.3 118.4M418.3 117.6L418.8 117.6M418.3 118.4L418.6 118.4M418.8 117.6L418.8 117.6M418.6 118.4L418.8 118.4M418.3 119.3L418.3 120.7M418.3 119.3L418.7 119.3M418.3 120.7L418.7 120.7M418.7 119.3L418.8 119.3M418.7 120.7L418.8 120.7M416.8 123.3L416.8 127.0M416.8 123.3L417.1 123.3M416.8 127.0L417.7 127.0M417.1 122.6L417.1 124.2M417.1 122.6L417.4 122.6M417.1 124.2L417.5 124.2M417.4 122.1L417.4 123.0M417.4 122.1L418.0 122.1M417.4 123.0L417.8 123.0M418.0 122.1L418.8 122.1M417.8 123.0L418.8 123.0M417.5 124.2L418.8 124.2M417.7 126.2L417.7 128.3M417.7 126.2L418.7 126.2M417.7 128.3L418.3 128.3M418.7 126.2L418.8 126.2M418.3 128.3L418.8 128.3M416.6 132.2L416.6 135.7M416.6 132.2L416.9 132.2M416.6 135.7L416.9 135.7M416.9 131.3L416.9 133.0M416.9 131.3L417.4 131.3M416.9 133.0L417.8 133.0M417.4 130.8L417.4 131.5M417.4 130.8L417.6 130.8M417.4 131.5L418.3 131.5M417.6 130.8L418.8 130.8M418.3 131.5L418.8 131.5M417.8 132.5L417.8 133.5M417.8 132.5L418.1 132.5M417.8 133.5L418.4 133.5M418.1 132.5L418.8 132.5M418.4 133.5L418.8 133.5M416.9 134.5L416.9 136.3M416.9 134.5L417.6 134.5M416.9 136.3L417.9 136.3M417.6 134.5L418.8 134.5M417.9 135.8L417.9 137.1M417.9 135.8L418.7 135.8M417.9 137.1L418.4 137.1M418.7 135.8L418.8 135.8M418.4 137.1L418.8 137.1M415.6 148.3L415.6 152.3M415.6 148.3L416.0 148.3M415.6 152.3L416.4 152.3M416.0 147.4L416.0 149.2M416.0 147.4L416.8 147.4M416.0 149.2L416.5 149.2M416.8 146.9L416.8 147.8M416.8 146.9L417.7 146.9M416.8 147.8L417.8 147.8M417.7 146.9L418.8 146.9M417.8 147.8L418.8 147.8M416.5 148.9L416.5 149.8M416.5 148.9L417.3 148.9M416.5 149.8L417.3 149.8M417.3 148.9L418.8 148.9M417.3 149.8L418.8 149.8M416.4 151.4L416.4 153.6M416.4 151.4L416.8 151.4M416.4 153.6L417.1 153.6M416.8 150.7L416.8 152.0M416.8 150.7L417.1 150.7M416.8 152.0L417.1 152.0M417.1 150.7L418.8 150.7M417.1 152.0L418.8 152.0M417.1 153.1L417.1 154.0M417.1 153.1L417.5 153.1M417.1 154.0L417.8 154.0M417.5 153.1L418.8 153.1M417.8 154.0L418.8 154.0M414.6 160.6L414.6 165.8M414.6 160.6L415.2 160.6M414.6 165.8L415.6 165.8M415.2 159.5L415.2 163.1M415.2 159.5L416.2 159.5M415.2 163.1L415.7 163.1M416.2 158.0L416.2 160.5M416.2 158.0L416.6 158.0M416.2 160.5L416.5 160.5M416.6 157.4L416.6 158.3M416.6 157.4L417.3 157.4M416.6 158.3L417.5 158.3M417.3 157.4L418.8 157.4M417.5 158.3L418.8 158.3M416.5 159.9L416.5 161.4M416.5 159.9L417.2 159.9M416.5 161.4L417.3 161.4M417.2 159.5L417.2 160.5M417.2 159.5L417.5 159.5M417.2 160.5L417.9 160.5M417.5 159.5L418.8 159.5M417.9 160.5L418.8 160.5M417.3 161.4L418.8 161.4M415.7 162.7L415.7 163.8M415.7 162.7L416.5 162.7M415.7 163.8L416.5 163.8M416.5 162.7L418.8 162.7M416.5 163.8L418.8 163.8M415.6 165.0L415.6 166.7M415.6 165.0L415.9 165.0M415.6 166.7L416.4 166.7M415.9 164.5L415.9 165.3M415.9 164.5L416.8 164.5M415.9 165.3L416.9 165.3M416.8 164.5L418.8 164.5M416.9 165.3L418.8 165.3M416.4 166.2L416.4 167.0M416.4 166.2L416.9 166.2M416.4 167.0L417.4 167.0M416.9 166.2L418.8 166.2M417.4 167.0L418.8 167.0M414.6 179.7L414.6 185.9M414.6 179.7L415.0 179.7M414.6 185.9L414.9 185.9M415.0 177.3L415.0 181.0M415.0 177.3L415.9 177.3M415.0 181.0L415.8 181.0M415.9 176.5L415.9 177.8M415.9 176.5L416.8 176.5M415.9 177.8L416.9 177.8M416.8 176.5L418.8 176.5M416.9 177.4L416.9 178.3M416.9 177.4L417.4 177.4M416.9 178.3L417.6 178.3M417.4 177.4L418.8 177.4M417.6 178.3L418.8 178.3M415.8 179.5L415.8 181.8M415.8 179.5L416.1 179.5M415.8 181.8L416.8 181.8M416.1 179.1L416.1 180.0M416.1 179.1L416.7 179.1M416.1 180.0L417.0 180.0M416.7 179.1L418.8 179.1M417.0 180.0L418.8 180.0M416.8 181.0L416.8 182.6M416.8 181.0L417.7 181.0M416.8 182.6L417.7 182.6M417.7 181.0L418.8 181.0M417.7 182.1L417.7 182.9M417.7 182.1L418.1 182.1M417.7 182.9L418.1 182.9M418.1 182.1L418.8 182.1M418.1 182.9L418.8 182.9M414.9 184.4L414.9 187.0M414.9 184.4L415.6 184.4M414.9 187.0L415.4 187.0M415.6 183.8L415.6 184.9M415.6 183.8L416.0 183.8M415.6 184.9L416.6 184.9M416.0 183.8L418.8 183.8M416.6 184.9L418.8 184.9M415.4 186.1L415.4 187.6M415.4 186.1L416.0 186.1M415.4 187.6L416.1 187.6M416.0 186.1L418.8 186.1M416.1 187.3L416.1 188.2M416.1 187.3L416.6 187.3M416.1 188.2L417.0 188.2M416.6 187.3L418.8 187.3M417.0 188.2L418.8 188.2M414.6 195.5L414.6 201.5M414.6 195.5L415.2 195.5M414.6 201.5L415.2 201.5M415.2 193.4L415.2 196.4M415.2 193.4L415.8 193.4M415.2 196.4L415.6 196.4M415.8 192.8L415.8 193.7M415.8 192.8L416.7 192.8M415.8 193.7L416.2 193.7M416.7 192.8L418.8 192.8M416.2 193.7L418.8 193.7M415.6 195.4L415.6 197.4M415.6 195.4L416.4 195.4M415.6 197.4L416.3 197.4M416.4 194.8L416.4 195.8M416.4 194.8L417.1 194.8M416.4 195.8L417.1 195.8M417.1 194.8L418.8 194.8M417.1 195.8L418.8 195.8M416.3 197.0L416.3 198.1M416.3 197.0L416.6 197.0M416.3 198.1L417.0 198.1M416.6 197.0L418.8 197.0M417.0 198.1L418.8 198.1M415.2 199.7L415.2 202.7M415.2 199.7L415.7 199.7M415.2 202.7L416.1 202.7M415.7 199.1L415.7 200.3M415.7 199.1L416.4 199.1M415.7 200.3L416.5 200.3M416.4 199.1L418.8 199.1M416.5 200.3L418.8 200.3M416.1 202.1L416.1 203.9M416.1 202.1L416.7 202.1M416.1 203.9L416.8 203.9M416.7 201.5L416.7 202.7M416.7 201.5L417.3 201.5M416.7 202.7L417.4 202.7M417.3 201.5L418.8 201.5M417.4 202.7L418.8 202.7M416.8 203.9L418.8 203.9M413.8 169.8L413.8 173.6M413.8 169.8L414.4 169.8M413.8 173.6L414.4 173.6M414.4 169.2L414.4 171.0M414.4 169.2L415.2 169.2M414.4 171.0L415.4 171.0M415.2 168.8L415.2 170.0M415.2 168.8L415.7 168.8M415.2 170.0L415.9 170.0M415.7 168.6L415.7 169.4M415.7 168.6L416.5 168.6M415.7 169.4L416.0 169.4M416.5 168.6L418.8 168.6M416.0 169.4L418.8 169.4M415.9 170.0L418.8 170.0M415.4 171.0L418.8 171.0M414.4 172.3L414.4 174.2M414.4 172.3L415.0 172.3M414.4 174.2L414.7 174.2M415.0 172.3L418.8 172.3M414.7 173.5L414.7 174.7M414.7 173.5L415.0 173.5M414.7 174.7L415.5 174.7M415.0 173.5L418.8 173.5M415.5 174.4L415.5 175.2M415.5 174.4L416.4 174.4M415.5 175.2L415.8 175.2M416.4 174.4L418.8 174.4M415.8 175.2L418.8 175.2M413.8 211.4L413.8 218.5M413.8 211.4L414.5 211.4M413.8 218.5L414.2 218.5M414.5 209.9L414.5 214.1M414.5 209.9L415.5 209.9M414.5 214.1L415.0 214.1M415.5 209.1L415.5 211.8M415.5 209.1L416.1 209.1M415.5 211.8L416.1 211.8M416.1 208.5L416.1 210.4M416.1 208.5L416.9 208.5M416.1 210.4L416.4 210.4M416.9 207.8L416.9 209.1M416.9 207.8L417.6 207.8M416.9 209.1L417.4 209.1M417.6 207.8L418.8 207.8M417.4 209.1L418.8 209.1M416.4 210.4L418.8 210.4M416.1 211.3L416.1 212.1M416.1 211.3L416.6 211.3M416.1 212.1L416.9 212.1M416.6 211.3L418.8 211.3M416.9 212.1L418.8 212.1M415.0 213.1L415.0 214.6M415.0 213.1L415.6 213.1M415.0 214.6L415.5 214.6M415.6 213.1L418.8 213.1M415.5 213.9L415.5 214.9M415.5 213.9L416.0 213.9M415.5 214.9L416.3 214.9M416.0 213.9L418.8 213.9M416.3 214.9L418.8 214.9M414.2 217.1L414.2 220.0M414.2 217.1L414.5 217.1M414.2 220.0L415.1 220.0M414.5 216.5L414.5 218.0M414.5 216.5L415.4 216.5M414.5 218.0L414.8 218.0M415.4 216.0L415.4 216.9M415.4 216.0L415.7 216.0M415.4 216.9L416.3 216.9M415.7 216.0L418.8 216.0M416.3 216.9L418.8 216.9M414.8 218.0L418.8 218.0M415.1 219.2L415.1 220.6M415.1 219.2L415.5 219.2M415.1 220.6L415.7 220.6M415.5 219.2L418.8 219.2M415.7 220.3L415.7 221.2M415.7 220.3L416.6 220.3M415.7 221.2L416.2 221.2M416.6 220.3L418.8 220.3M416.2 221.2L418.8 221.2M413.8 234.6L413.8 241.9M413.8 234.6L414.7 234.6M413.8 241.9L414.5 241.9M414.7 233.5L414.7 236.1M414.7 233.5L415.1 233.5M414.7 236.1L415.0 236.1M415.1 232.9L415.1 234.4M415.1 232.9L415.6 232.9M415.1 234.4L415.4 234.4M415.6 232.6L415.6 233.5M415.6 232.6L416.4 232.6M415.6 233.5L416.5 233.5M416.4 232.6L418.8 232.6M416.5 233.5L418.8 233.5M415.4 234.4L418.8 234.4M415.0 235.4L415.0 236.5M415.0 235.4L415.9 235.4M415.0 236.5L415.3 236.5M415.9 235.4L418.8 235.4M415.3 236.5L418.8 236.5M414.5 240.2L414.5 244.9M414.5 240.2L415.1 240.2M414.5 244.9L415.0 244.9M415.1 238.8L415.1 241.8M415.1 238.8L416.0 238.8M415.1 241.8L415.5 241.8M416.0 237.8L416.0 239.3M416.0 237.8L416.7 237.8M416.0 239.3L416.4 239.3M416.7 237.8L418.8 237.8M416.4 238.7L416.4 239.7M416.4 238.7L416.8 238.7M416.4 239.7L416.7 239.7M416.8 238.7L418.8 238.7M416.7 239.7L418.8 239.7M415.5 240.9L415.5 242.3M415.5 240.9L416.0 240.9M415.5 242.3L416.0 242.3M416.0 240.9L418.8 240.9M416.0 242.0L416.0 242.9M416.0 242.0L416.5 242.0M416.0 242.9L416.6 242.9M416.5 242.0L418.8 242.0M416.6 242.9L418.8 242.9M415.0 243.8L415.0 245.5M415.0 243.8L415.5 243.8M415.0 245.5L415.2 245.5M415.5 243.8L418.8 243.8M415.2 244.8L415.2 245.9M415.2 244.8L415.5 244.8M415.2 245.9L416.0 245.9M415.5 244.8L418.8 244.8M416.0 245.9L418.8 245.9M411.9 258.0L411.9 264.8M411.9 258.0L412.3 258.0M411.9 264.8L412.5 264.8M412.3 256.9L412.3 260.4M412.3 256.9L412.6 256.9M412.3 260.4L413.2 260.4M412.6 255.6L412.6 258.0M412.6 255.6L413.2 255.6M412.6 258.0L413.5 258.0M413.2 255.0L413.2 256.1M413.2 255.0L413.9 255.0M413.2 256.1L414.0 256.1M413.9 255.0L418.8 255.0M414.0 256.1L418.8 256.1M413.5 257.6L413.5 258.9M413.5 257.6L414.0 257.6M413.5 258.9L414.4 258.9M414.0 257.2L414.0 258.1M414.0 257.2L414.7 257.2M414.0 258.1L414.6 258.1M414.7 257.2L418.8 257.2M414.6 258.1L418.8 258.1M414.4 258.9L418.8 258.9M413.2 259.7L413.2 260.9M413.2 259.7L413.4 259.7M413.2 260.9L413.5 260.9M413.4 259.7L418.8 259.7M413.5 260.9L418.8 260.9M412.5 262.6L412.5 265.8M412.5 262.6L413.3 262.6M412.5 265.8L412.9 265.8M413.3 261.9L413.3 263.0M413.3 261.9L413.6 261.9M413.3 263.0L414.2 263.0M413.6 261.9L418.8 261.9M414.2 263.0L418.8 263.0M412.9 265.1L412.9 267.2M412.9 265.1L413.7 265.1M412.9 267.2L413.4 267.2M413.7 264.2L413.7 265.6M413.7 264.2L414.2 264.2M413.7 265.6L414.3 265.6M414.2 264.2L418.8 264.2M414.3 265.1L414.3 265.9M414.3 265.1L414.9 265.1M414.3 265.9L414.7 265.9M414.9 265.1L418.8 265.1M414.7 265.9L418.8 265.9M413.4 267.0L413.4 267.8M413.4 267.0L414.4 267.0M413.4 267.8L414.1 267.8M414.4 267.0L418.8 267.0M414.1 267.8L418.8 267.8M413.8 272.7L413.8 278.2M413.8 272.7L414.8 272.7M413.8 278.2L414.3 278.2M414.8 271.5L414.8 273.7M414.8 271.5L415.0 271.5M414.8 273.7L415.3 273.7M415.0 271.0L415.0 271.9M415.0 271.0L415.7 271.0M415.0 271.9L415.4 271.9M415.7 271.0L418.8 271.0M415.4 271.9L418.8 271.9M415.3 273.0L415.3 274.3M415.3 273.0L415.6 273.0M415.3 274.3L415.8 274.3M415.6 273.0L418.8 273.0M415.8 274.3L418.8 274.3M414.3 276.0L414.3 279.3M414.3 276.0L414.8 276.0M414.3 279.3L414.6 279.3M414.8 275.2L414.8 276.3M414.8 275.2L415.3 275.2M414.8 276.3L415.3 276.3M415.3 275.2L418.8 275.2M415.3 276.0L415.3 276.7M415.3 276.0L415.9 276.0M415.3 276.7L416.1 276.7M415.9 276.0L418.8 276.0M416.1 276.7L418.8 276.7M414.6 278.3L414.6 280.5M414.6 278.3L415.4 278.3M414.6 280.5L415.5 280.5M415.4 277.7L415.4 278.9M415.4 277.7L415.8 277.7M415.4 278.9L416.3 278.9M415.8 277.7L418.8 277.7M416.3 278.9L418.8 278.9M415.5 279.9L415.5 280.9M415.5 279.9L416.3 279.9M415.5 280.9L416.2 280.9M416.3 279.9L418.8 279.9M416.2 280.9L418.8 280.9M414.5 223.8L414.5 228.1M414.5 223.8L415.4 223.8M414.5 228.1L415.4 228.1M415.4 223.2L415.4 224.6M415.4 223.2L416.2 223.2M415.4 224.6L416.2 224.6M416.2 223.2L418.8 223.2M416.2 224.6L418.8 224.6M415.4 226.2L415.4 229.1M415.4 226.2L416.1 226.2M415.4 229.1L416.0 229.1M416.1 225.9L416.1 226.9M416.1 225.9L416.9 225.9M416.1 226.9L416.9 226.9M416.9 225.9L418.8 225.9M416.9 226.9L418.8 226.9M416.0 228.3L416.0 230.1M416.0 228.3L417.0 228.3M416.0 230.1L416.8 230.1M417.0 227.8L417.0 228.8M417.0 227.8L417.4 227.8M417.0 228.8L417.2 228.8M417.4 227.8L418.8 227.8M417.2 228.8L418.8 228.8M416.8 229.6L416.8 230.4M416.8 229.6L417.3 229.6M416.8 230.4L417.1 230.4M417.3 229.6L418.8 229.6M417.1 230.4L418.8 230.4M415.0 249.2L415.0 252.7M415.0 249.2L415.7 249.2M415.0 252.7L415.7 252.7M415.7 248.2L415.7 250.4M415.7 248.2L416.4 248.2M415.7 250.4L416.3 250.4M416.4 247.4L416.4 248.6M416.4 247.4L417.3 247.4M416.4 248.6L417.2 248.6M417.3 247.4L418.8 247.4M417.2 248.2L417.2 249.0M417.2 248.2L417.9 248.2M417.2 249.0L418.0 249.0M417.9 248.2L418.8 248.2M418.0 249.0L418.8 249.0M416.3 249.8L416.3 250.8M416.3 249.8L417.1 249.8M416.3 250.8L416.7 250.8M417.1 249.8L418.8 249.8M416.7 250.8L418.8 250.8M415.7 251.9L415.7 253.1M415.7 251.9L416.2 251.9M415.7 253.1L416.5 253.1M416.2 251.9L418.8 251.9M416.5 252.6L416.5 253.5M416.5 252.6L417.3 252.6M416.5 253.5L417.5 253.5M417.3 252.6L418.8 252.6M417.5 253.5L418.8 253.5"/>
</g>
</g>
</svg></body></html>
